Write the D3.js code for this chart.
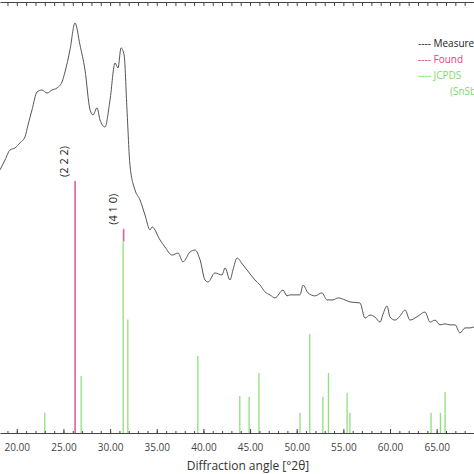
<!DOCTYPE html>
<html><head><meta charset="utf-8">
<script src="https://cdn.jsdelivr.net/npm/d3@7"></script>
<style>body{margin:0;background:#fff}text{font-family:"Open Sans",sans-serif}</style>
</head><body><svg id="c" width="474" height="474"></svg>
<script>
const measuredX=[18.2,18.74,19.27,19.81,20.34,20.88,21.2,21.63,22.17,22.7,23.24,23.77,24.31,24.85,25.17,25.7,26.24,26.77,27.31,27.85,28.17,28.6,28.92,29.45,29.99,30.53,30.85,31.17,31.5,31.81,32.13,32.67,33.2,33.74,34.28,34.5,35.35,35.88,36.64,37.28,37.81,38.56,39.1,39.64,40.17,40.49,41.24,41.99,42.32,42.85,43.17,43.6,44.24,44.67,45.53,46.07,46.6,47.14,47.67,48.53,48.96,49.28,50.35,50.68,51.21,51.96,52.71,53.25,53.89,54.43,55.18,55.71,56.78,57.32,57.86,58.39,58.93,59.25,59.68,60.0,60.54,61.07,61.61,62.14,63.0,63.75,64.29,64.82,65.36,65.9,66.43,66.97,67.5,68.04,68.57,69.0];
const measuredY=[104.4,108.3,112.3,113.1,115.1,117.5,122.2,128.2,135.3,136.1,134.9,136.1,136.9,139.3,143.3,152,162.7,154,144,128.2,126.2,129,124.2,121.4,132.1,146.8,144.8,152.8,150,128.2,106.3,96.4,92.5,86.5,80.6,81.7,76.6,73.8,70.6,71.4,67.9,71.8,72.6,68.7,60.7,59.9,63.5,62.7,65.5,60.7,64.7,69.4,66.7,64.7,60.7,58.7,56,54.8,53.6,56.7,54.4,54.8,54.8,58.7,55.6,54.4,55.6,52.8,52.8,53.6,52.8,52,51.6,45.6,46.8,46,44,47.2,50.4,46,44.8,46.4,48.8,44.8,46.4,48,44,44.8,42.9,43.3,42.9,42.9,39.7,41.7,41.7,42.1];
const refAngles=[23.0,26.9,31.4,31.9,39.4,43.9,44.9,45.95,50.35,51.4,52.8,53.4,55.4,55.7,64.4,65.4,65.9];
const refIntensity=[8,22.6,76,45,30.6,14.7,14.3,23.8,8,39.3,14.3,23.8,15.9,8,8,8,16.3];
const foundAngles=[26.25,31.45];
const foundIntensity=[100,81];
const foundLabels=["(2 2 2)","(4 1 0)"];
const legendLabels=["Measured","Found","JCPDS","(SnSb)"];
const legendColors=["#222","#e0457b","#7bdc6a","#7bdc6a"];

const svg=d3.select("#c");
const x=d3.scaleLinear().domain([18.2,69.0]).range([0,474]);
const y=d3.scaleLinear().domain([0,171.8]).range([433,0]);

svg.selectAll(".r").data(refAngles).join("line")
 .attr("x1",d=>x(d)).attr("x2",d=>x(d)).attr("y1",y(0))
 .attr("y2",(d,i)=>y(refIntensity[i])).attr("stroke","#8ee07c").attr("stroke-width",1.3);
svg.selectAll(".f").data(foundAngles).join("line")
 .attr("x1",d=>x(d)).attr("x2",d=>x(d)).attr("y1",(d,i)=>i==1?y(refIntensity[2]):y(0))
 .attr("y2",(d,i)=>y(foundIntensity[i])).attr("stroke","#e0609a").attr("stroke-width",1.6);
svg.selectAll(".fl").data(foundAngles).join("text")
 .attr("transform",(d,i)=>`translate(${x(d)-7},${y(foundIntensity[i])-4}) rotate(-90)`)
 .attr("font-size",11).attr("fill","#222").text((d,i)=>foundLabels[i]);

const line=d3.line().x((d,i)=>x(measuredX[i])).y(d=>y(d)).curve(d3.curveMonotoneX);
svg.append("path").datum(measuredY).attr("d",line).attr("fill","none").attr("stroke","#555").attr("stroke-width",1);

const bx=svg.append("g").attr("transform","translate(0,433)")
 .call(d3.axisBottom(x).tickValues(d3.range(20,70,5)).tickFormat(d3.format(".2f")).tickSize(4).tickSizeOuter(0));
bx.select(".domain").attr("stroke","#444");
bx.selectAll("text").attr("font-size",10).attr("fill","#444").attr("dy","1.1em");
bx.selectAll("line").attr("stroke","#444").attr("transform","translate(0,-4)").attr("y2",4);
svg.append("g").attr("transform","translate(0,433)")
 .call(d3.axisBottom(x).tickValues(d3.range(19,70,1)).tickFormat("").tickSize(2).tickSizeOuter(0))
 .call(g=>{g.select(".domain").remove();g.selectAll("line").attr("stroke","#444").attr("transform","translate(0,-2)");});
const tx=svg.append("g").attr("transform","translate(0,2)")
 .call(d3.axisBottom(x).tickValues(d3.range(19,70,1)).tickFormat("").tickSize(4).tickSizeOuter(0));
tx.select(".domain").attr("stroke","#444");
tx.selectAll("line").attr("stroke","#444");

svg.append("text").attr("x",248).attr("y",470).attr("text-anchor","middle")
 .attr("font-size",12).attr("fill","#333").text("Diffraction angle [°2θ]");

svg.selectAll(".lg").data(legendLabels).join("text")
 .attr("x",(d,i)=>i==3?450:418).attr("y",(d,i)=>47+i*16).attr("font-size",10)
 .attr("fill",(d,i)=>legendColors[i]).text((d,i)=>i==3?d:"---- "+d);
</script></body></html>
